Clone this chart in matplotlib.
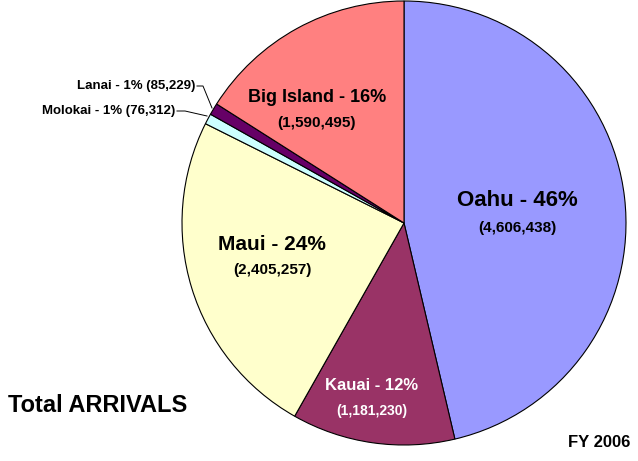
import matplotlib
matplotlib.use("Agg")
import matplotlib.pyplot as plt

islands = ["Oahu", "Kauai", "Maui", "Molokai", "Lanai", "Big Island"]
arrivals = [4606438, 1181230, 2405257, 76312, 85229, 1590495]
percents = [46, 12, 24, 1, 1, 16]
colors = ["#9999ff", "#993366", "#ffffcc", "#ccffff", "#660066", "#ff8080"]

plt.rcParams['font.family'] = ['Liberation Sans', 'DejaVu Sans']
W, H = 638, 461
fig = plt.figure(figsize=(W/100, H/100), dpi=100)
ax = fig.add_axes([0, 0, 1, 1])
ax.set_xlim(0, W); ax.set_ylim(0, H); ax.axis("off")

ax.pie(arrivals, colors=colors, startangle=90, counterclock=False,
       center=(404, H-223), radius=222,
       wedgeprops=dict(edgecolor="black", linewidth=0.8), frame=True)
ax.set_xlim(0, W); ax.set_ylim(0, H); ax.axis("off")

def fmt(v): return f"({v:,})"
def y(p): return H - p

big = dict(fontweight="bold", ha="center", va="center")
ax.text(517, y(200), f"{islands[0]} - {percents[0]}%", fontsize=16, **big)
ax.text(517, y(228), fmt(arrivals[0]), fontsize=11, **big)
ax.text(372, y(385), f"{islands[1]} - {percents[1]}%", fontsize=12, color="white", **big)
ax.text(372, y(411), fmt(arrivals[1]), fontsize=10, color="white", **big)
ax.text(272, y(244), f"{islands[2]} - {percents[2]}%", fontsize=15, **big)
ax.text(272, y(270), fmt(arrivals[2]), fontsize=11, **big)
ax.text(317, y(97), f"{islands[5]} - {percents[5]}%", fontsize=13, **big)
ax.text(317, y(123), fmt(arrivals[5]), fontsize=11, **big)

small = dict(fontsize=9.5, fontweight="bold", ha="right", va="center")
ax.text(195, y(86), f"{islands[4]} - {percents[4]}% {fmt(arrivals[4])}", **small)
ax.text(175, y(111), f"{islands[3]} - {percents[3]}% {fmt(arrivals[3])}", **small)
ax.plot([197, 203, 212], [y(86), y(86), y(108)], color="black", lw=0.7)
ax.plot([177, 185, 207], [y(111), y(111), y(116)], color="black", lw=0.7)

ax.text(8, y(405), "Total ARRIVALS", fontsize=17, fontweight="bold", ha="left", va="center")
ax.text(630, y(442), "FY 2006", fontsize=12, fontweight="bold", ha="right", va="center")

fig.savefig("out.png", dpi=100)
